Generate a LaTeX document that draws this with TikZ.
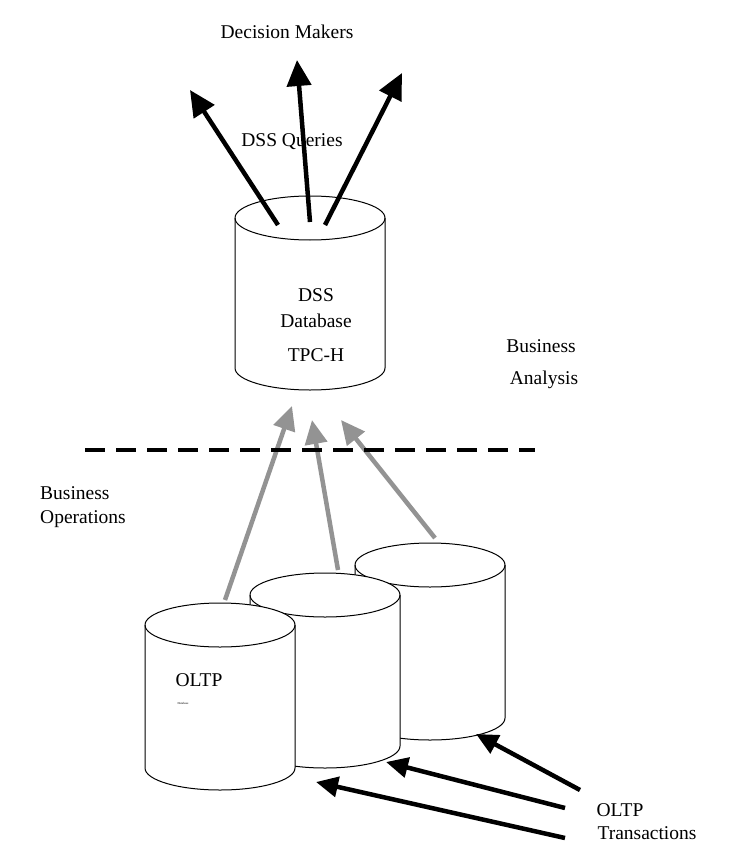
\documentclass[tikz,border=0pt]{standalone}
\usepackage{fontspec}
\setmainfont{Liberation Serif}
\usetikzlibrary{arrows.meta}
\begin{document}
\begin{tikzpicture}[x=1pt,y=-1pt,
  lbl/.style={font=\fontsize{19.5}{22}\selectfont,inner sep=0pt},
  cyl/.style={draw,fill=white,line width=1pt},
  blk/.style={line width=4.5pt,-{Triangle[length=26pt,width=24pt]}},
  gry/.style={line width=4.5pt,draw=gray!85,-{Triangle[length=24pt,width=22pt]}}]
\useasboundingbox (0,0) rectangle (743,864);
\newcommand\mycyl[4]{% x1 x2 ytopcenter ybottom
  \path[cyl] (#1,#3) -- (#1,#4) arc[start angle=180,end angle=0,x radius={(#2-#1)/2},y radius=22] -- (#2,#3) arc[start angle=0,end angle=-180,x radius={(#2-#1)/2},y radius=22] -- cycle;
  \draw[line width=1pt] (#1,#3) arc[start angle=180,end angle=0,x radius={(#2-#1)/2},y radius=22];}
\mycyl{235}{385}{218}{368}
\mycyl{355}{505}{565}{718}
\mycyl{250}{400}{595}{746}
\mycyl{145}{295}{625}{768}
\coordinate (q1s) at (278,225); \coordinate (q1e) at (190,90);
\coordinate (q2s) at (310,222); \coordinate (q2e) at (297,60);
\coordinate (q3s) at (325,225); \coordinate (q3e) at (402,73);
\draw[blk] (q1s)--(q1e); \draw[blk] (q2s)--(q2e); \draw[blk] (q3s)--(q3e);
\coordinate (g1s) at (225,600); \coordinate (g1e) at (292,406);
\coordinate (g2s) at (338,570); \coordinate (g2e) at (312,420);
\coordinate (g3s) at (435,538); \coordinate (g3e) at (341,420);
\draw[gry] (g1s)--(g1e); \draw[gry] (g2s)--(g2e); \draw[gry] (g3s)--(g3e);
\coordinate (t1s) at (580,790); \coordinate (t1e) at (476,734);
\coordinate (t2s) at (565,808); \coordinate (t2e) at (386,762);
\coordinate (t3s) at (565,838); \coordinate (t3e) at (316,782);
\draw[blk,-{Triangle[length=22pt,width=20pt]}] (t1s)--(t1e);
\draw[blk,-{Triangle[length=22pt,width=20pt]}] (t2s)--(t2e);
\draw[blk,-{Triangle[length=22pt,width=20pt]}] (t3s)--(t3e);
\coordinate (d1) at (85,450); \coordinate (d2) at (535,450);
\draw[line width=4pt,dash pattern=on 20pt off 11pt] (d1)--(d2);
\node[lbl] (dm) at (287,32) {Decision Makers};
\node[lbl] (dq) at (292,142) {DSS Queries};
\node[lbl] (dss) at (316,295) {DSS};
\node[lbl] (db) at (316,321) {Database};
\node[lbl] (tpch) at (316,355) {TPC-H};
\node[lbl] (ba1) at (541,346) {Business};
\node[lbl] (ba2) at (544,380) {Analysis};
\node[lbl,anchor=west] (bo1) at (40,493) {Business};
\node[lbl,anchor=west] (bo2) at (40,519) {Operations};
\node[lbl] (oltp) at (199,680) {OLTP};
\node[font=\fontsize{3}{3}\selectfont,inner sep=0pt] (odb) at (183,703) {Database};
\node[lbl] (ot1) at (620,810) {OLTP};
\node[lbl] (ot2) at (647,833) {Transactions};
\end{tikzpicture}
\end{document}
